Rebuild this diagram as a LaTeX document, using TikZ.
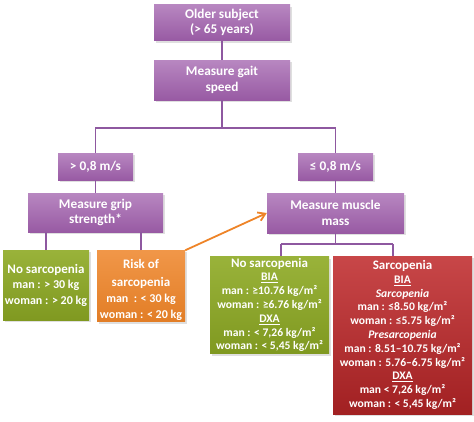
\documentclass[tikz,border=0pt]{standalone}
\usepackage{fontspec}
\setmainfont{Carlito}
\usetikzlibrary{arrows.meta,shadows}

\definecolor{plum}{RGB}{160,95,172}
\definecolor{plumline}{RGB}{142,88,160}
\definecolor{olive}{RGB}{142,170,36}
\definecolor{tangerine}{RGB}{238,132,40}
\definecolor{brick}{RGB}{190,38,40}

\newcommand\tightlines{\lineskiplimit=-20pt\lineskip=0pt}
\newcommand\headfont{\fontsize{13}{14}\selectfont}

\tikzset{
  box/.style={rectangle,align=center,text=white,inner sep=1pt,
    drop shadow={opacity=0.25,shadow xshift=2pt,shadow yshift=-2pt}},
  pbox/.style={box,top color=plum!75!white,bottom color=plum!95!black,
    font=\bfseries\fontsize{13.3}{15.5}\selectfont\tightlines},
  gbox/.style={box,top color=olive!90!white,bottom color=olive!90!black},
  obox/.style={box,top color=tangerine!85!white,bottom color=tangerine!95!black},
  rbox/.style={box,top color=brick!85!white,bottom color=brick!85!black},
  link/.style={plumline,line width=1.8pt},
  hint/.style={tangerine,line width=1.8pt,-{Straight Barb[length=7pt,width=9pt]}}
}

\begin{document}
\begin{tikzpicture}[x=1pt,y=-1pt]
\useasboundingbox (0,0) rectangle (474,421);

% decision chain
\node[pbox,minimum width=136pt,minimum height=36pt] (subj) at (222,22.5) {Older subject\\(> 65 years)};
\node[pbox,minimum width=136pt,minimum height=40pt] (gait) at (222,80) {Measure gait\\speed};
\node[pbox,minimum width=75pt,minimum height=27pt] (fast) at (95.5,166.5) {> 0,8 m/s};
\node[pbox,minimum width=75pt,minimum height=27pt] (slow) at (335.5,166.5) {≤ 0,8 m/s};
\node[pbox,minimum width=135pt,minimum height=39pt] (grip) at (95.5,212.5) {Measure grip\\strength*};
\node[pbox,minimum width=137pt,minimum height=40pt] (mass) at (335.5,213) {Measure muscle\\mass};

% outcomes
\node[gbox,minimum width=86pt,minimum height=70pt,font=\bfseries\fontsize{12}{15.5}\selectfont\tightlines] (nosarcA) at (46,285)
  {{\headfont No sarcopenia}\\man : > 30 kg\\woman : > 20 kg};
\node[obox,minimum width=88pt,minimum height=68pt,font=\bfseries\fontsize{12}{16}\selectfont\tightlines] (risk) at (141,286)
  {{\headfont\rule{0pt}{17pt}Risk of}\\[2pt]{\headfont sarcopenia}\\man\ \ : < 30 kg\\woman : < 20 kg};
\node[gbox,minimum width=119pt,minimum height=97pt,font=\bfseries\fontsize{11.6}{13.8}\selectfont\tightlines] (nosarcB) at (269.5,305)
  {{\headfont No sarcopenia}\\\underline{BIA}\\man : ≥10.76 kg/m²\\woman : ≥6.76 kg/m²\\\underline{DXA}\\man : < 7,26 kg/m²\\woman : < 5,45 kg/m²};
\node[rbox,minimum width=139pt,minimum height=158pt,font=\bfseries\fontsize{11.6}{13.8}\selectfont\tightlines] (sarc) at (402.5,335)
  {{\headfont Sarcopenia}\\\underline{BIA}\\\textit{Sarcopenia}\\man : ≤8.50 kg/m²\\woman : ≤5.75 kg/m²\\\textit{Presarcopenia}\\man : 8.51–10.75 kg/m²\\woman : 5.76–6.75 kg/m²\\\underline{DXA}\\man < 7,26 kg/m²\\woman : < 5,45 kg/m²};

% connectors
\coordinate (split) at (222,128);
\coordinate (mL) at (281,244);
\coordinate (mR) at (393,244);
\draw[link] (subj) -- (gait);
\draw[link] (gait) -- (split);
\draw[link] (fast.north) |- (split) -| (slow.north);
\draw[link] (fast) -- (grip);
\draw[link] (slow) -- (mass);
\draw[link] (nosarcA.north) -- (nosarcA.north |- grip.south);
\draw[link] (risk.north) -- (risk.north |- grip.south);
\draw[link] (mass.south) -- (mass.south |- mL);
\draw[link] (mL) -- (mR);
\draw[link] (mL) -- (mL |- nosarcB.north);
\draw[link] (mR) -- (mR |- sarc.north);
\draw[hint] (risk.north east) -- (mass.west);
\end{tikzpicture}
\end{document}
